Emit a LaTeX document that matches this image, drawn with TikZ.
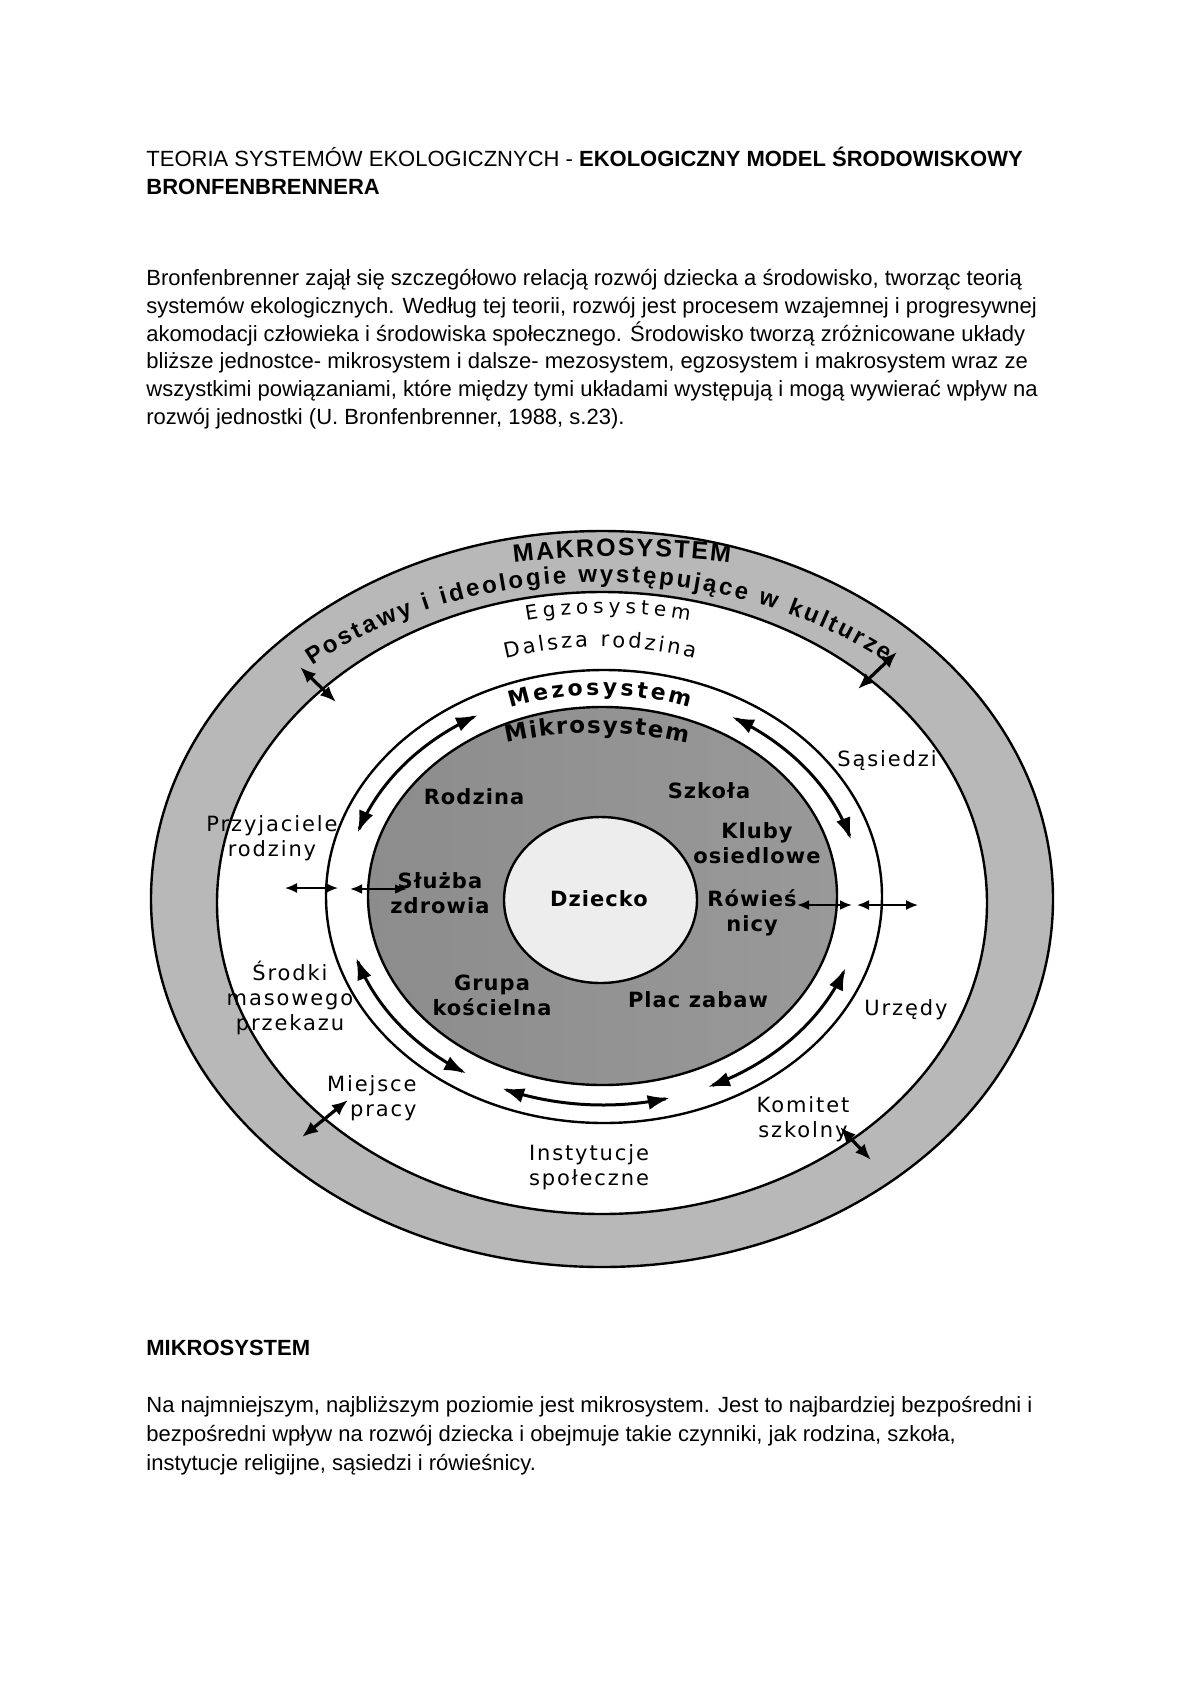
\documentclass[tikz,border=0pt]{standalone}
\usepackage{fontspec}
\setmainfont{Liberation Sans}
\newfontfamily\dfont{DejaVu Sans}
\newfontfamily\dlab[LetterSpace=9]{DejaVu Sans}
\newfontfamily\dlabb[LetterSpace=5]{DejaVu Sans}
\usetikzlibrary{arrows.meta,decorations.text}
\newcommand\fMakro{\fontsize{12.5}{14}\selectfont\bfseries}
\newcommand\fPost{\fontsize{12}{14}\selectfont\bfseries}
\newcommand\fEgzo{\dfont\fontsize{10}{12}\selectfont}
\newcommand\fDalsza{\dfont\fontsize{10.5}{12}\selectfont}
\newcommand\fMezo{\dfont\fontsize{11}{13}\selectfont\bfseries}
\newcommand\fMikro{\dfont\fontsize{11.5}{13}\selectfont\bfseries}
\begin{document}
\begin{tikzpicture}[x=0.5pt,y=-0.5pt,
  bodytext/.style={anchor=base west, inner sep=0pt, font=\fontsize{11}{13}\selectfont},
  ring/.style={line width=1.2pt, draw=black},
  elabel/.style={inner sep=0pt, align=center, font={\dlab\fontsize{10.5}{12.5}\selectfont}},
  mlabel/.style={inner sep=0pt, align=center, font={\dlabb\bfseries\fontsize{10.5}{12.5}\selectfont}},
  arcarrow/.style={line width=1.5pt, {Latex[length=11pt,width=7.5pt]}-{Latex[length=11pt,width=7.5pt]}},
  harrow/.style={line width=0.9pt, {Latex[length=6pt,width=5pt]}-{Latex[length=6pt,width=5pt]}},
  darrow/.style={line width=1.6pt, {Latex[length=8pt,width=6.5pt]}-{Latex[length=8pt,width=6.5pt]}},
  curvetext/.style={decorate, decoration={text along path, text align={fit to path}, text={#1}}}
]
\useasboundingbox (0,0) rectangle (1200,1694);

% ---------- body text ----------
\node[bodytext] (title1) at (146,166) {TEORIA SYSTEMÓW EKOLOGICZNYCH - \textbf{EKOLOGICZNY MODEL ŚRODOWISKOWY}};
\node[bodytext] (title2) at (146,194) {\textbf{BRONFENBRENNERA}};

\node[bodytext] (p1) at (146,285) {Bronfenbrenner zajął się szczegółowo relacją rozwój dziecka a środowisko, tworząc teorią};
\node[bodytext] (p2) at (146,313) {systemów ekologicznych. Według tej teorii, rozwój jest procesem wzajemnej i progresywnej};
\node[bodytext] (p3) at (146,341) {akomodacji człowieka i środowiska społecznego. Środowisko tworzą zróżnicowane układy};
\node[bodytext] (p4) at (146,368) {bliższe jednostce- mikrosystem i dalsze- mezosystem, egzosystem i makrosystem wraz ze};
\node[bodytext] (p5) at (146,396) {wszystkimi powiązaniami, które między tymi układami występują i mogą wywierać wpływ na};
\node[bodytext] (p6) at (146,424) {rozwój jednostki (U. Bronfenbrenner, 1988, s.23).};

\node[bodytext] (head2) at (146,1355) {\textbf{MIKROSYSTEM}};
\node[bodytext] (q1) at (146,1412) {Na najmniejszym, najbliższym poziomie jest mikrosystem. Jest to najbardziej bezpośredni i};
\node[bodytext] (q2) at (146,1441) {bezpośredni wpływ na rozwój dziecka i obejmuje takie czynniki, jak rodzina, szkoła,};
\node[bodytext] (q3) at (146,1470) {instytucje religijne, sąsiedzi i rówieśnicy.};

% ---------- diagram ----------
\fill[black!28, even odd rule] (602,899) ellipse [x radius=451, y radius=368]
                               (602,903) ellipse [x radius=385, y radius=311];
\draw[ring] (602,899) ellipse [x radius=451, y radius=368];
\draw[ring] (602,903) ellipse [x radius=385, y radius=311];
\draw[ring] (604,896.5) ellipse [x radius=278, y radius=226.5];
\shade[left color=black!45, middle color=black!27, right color=black!40]
  (602.5,896) ellipse [x radius=234.5, y radius=189];
\draw[ring] (602.5,896) ellipse [x radius=234.5, y radius=189];
\filldraw[ring, fill=black!7] (600.5,900) ellipse [x radius=96.5, y radius=83];

% curved texts
\path[curvetext={|\fMakro|MAKROSYSTEM}]
  plot[domain=83.1:96.9, samples=30] ({622-900*cos(\x)},{1456-900*sin(\x)});
\path[curvetext={|\fPost|Postawy i ideologie występujące w kulturze}]
  plot[domain=47.5:131.5, samples=90] ({602-429*cos(\x)},{900-318*sin(\x)});
\path[curvetext={|\fEgzo|Egzosystem}]
  plot[domain=79.7:100.3, samples=30] ({608-457*cos(\x)},{1070-457*sin(\x)});
\path[curvetext={|\fDalsza|Dalsza rodzina}]
  plot[domain=76.3:103.7, samples=30] ({600-400*cos(\x)},{1047-400*sin(\x)});
\path[curvetext={|\fMezo|Mezosystem}]
  plot[domain=73.7:106.3, samples=30] ({600-320*cos(\x)},{1015-320*sin(\x)});
\path[curvetext={|\fMikro|Mikrosystem}]
  plot[domain=77.5:102.5, samples=30] ({597-420*cos(\x)},{1153-420*sin(\x)});

% egzosystem labels
\node[elabel] (sasiedzi) at (887,761) {Sąsiedzi};
\node[elabel] (przyj) at (272,838) {Przyjaciele\\rodziny};
\node[elabel] (srodki) at (290,998) {Środki\\masowego\\przekazu};
\node[elabel] (urzedy) at (906,1010) {Urzędy};
\node[elabel, anchor=east] (miejsce) at (417,1098) {\hfill Miejsce\\\hfill pracy};
\node[elabel] (komitet) at (803,1119) {Komitet\\szkolny};
\node[elabel] (instyt) at (589,1167) {Instytucje\\społeczne};

% mikrosystem labels
\node[mlabel] (rodzina) at (474,797) {Rodzina};
\node[mlabel] (szkola) at (709,791) {Szkoła};
\node[mlabel] (kluby) at (757,843) {Kluby\\osiedlowe};
\node[mlabel] (sluzba) at (440,893) {Służba\\zdrowia};
\node[mlabel] (dziecko) at (599,899) {Dziecko};
\node[mlabel] (rowies) at (752,913) {Rówieś\\nicy};
\node[mlabel] (grupa) at (492,995) {Grupa\\kościelna};
\node[mlabel] (plac) at (698,1000) {Plac zabaw};

% arrows on the mesosystem track
\foreach \a/\b in {119/162, 16/60, 197/238, 247/285, 294/340}
  \draw[arcarrow] plot[domain=\a:\b, samples=40] ({603+258*cos(\x)},{897-208*sin(\x)});

% horizontal arrows
\coordinate (hl1a) at (285,888); \coordinate (hl1b) at (338,888);
\coordinate (hl2a) at (350,889); \coordinate (hl2b) at (407,889);
\coordinate (hr1a) at (797,905); \coordinate (hr1b) at (852,905);
\coordinate (hr2a) at (857,905); \coordinate (hr2b) at (918,905);
\draw[harrow] (hl1a) -- (hl1b);
\draw[harrow, line width=1.3pt] (hl2a) -- (hl2b);
\draw[harrow, line width=1.3pt] (hr1a) -- (hr1b);
\draw[harrow] (hr2a) -- (hr2b);

% diagonal arrows across the makrosystem band
\coordinate (d1a) at (300,667); \coordinate (d1b) at (336,702);
\coordinate (d2a) at (897,652); \coordinate (d2b) at (858,689);
\coordinate (d3a) at (302,1137); \coordinate (d3b) at (348,1100);
\coordinate (d4a) at (840,1127); \coordinate (d4b) at (871,1160);
\draw[darrow] (d1a) -- (d1b);
\draw[darrow] (d2a) -- (d2b);
\draw[darrow] (d3a) -- (d3b);
\draw[darrow] (d4a) -- (d4b);
\end{tikzpicture}
\end{document}
